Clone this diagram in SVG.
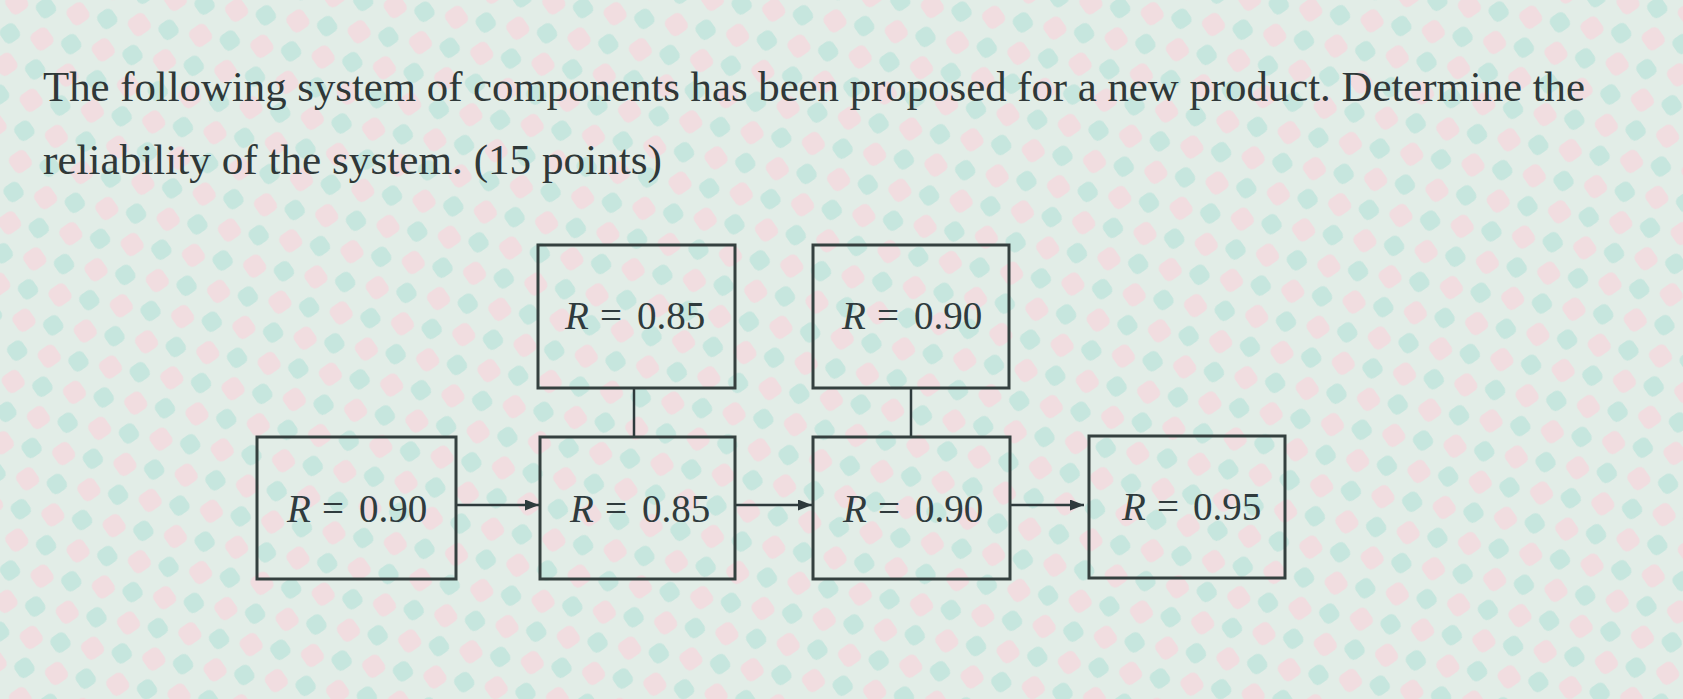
<svg xmlns="http://www.w3.org/2000/svg" width="1683" height="699" viewBox="0 0 1683 699">
  <defs>
    <pattern id="moire" width="44" height="44" patternUnits="userSpaceOnUse" patternTransform="rotate(-35)">
      <rect width="44" height="44" fill="#e2ede7"/>
      <rect x="2" y="2" width="20" height="20" rx="6" fill="#f1dde0"/>
      <rect x="24" y="24" width="18" height="18" rx="6" fill="#c6e6de"/>
    </pattern>
    <marker id="arrow" viewBox="0 0 14 11" refX="14" refY="5.5" markerWidth="14" markerHeight="11" markerUnits="userSpaceOnUse" orient="auto">
      <path d="M0,0 L14,5.5 L0,11 Z" fill="#2e3a3c"/>
    </marker>
    <style>
      .box { fill: none; stroke: #34403f; stroke-width: 3; }
      .lbl { font-family: "Liberation Serif", "Times New Roman", serif; font-size: 39px; fill: #2f3b3d; }
      .it { font-style: italic; }
      .title { font-family: "Liberation Serif", "Times New Roman", serif; font-size: 42px; fill: #2f3838; }
      .conn { stroke: #2e3a3c; stroke-width: 2.5; fill: none; }
    </style>
  </defs>
  <rect width="1683" height="699" fill="url(#moire)"/>

  <g id="question">
    <text class="title" x="43" y="101" textLength="1542" lengthAdjust="spacingAndGlyphs">The following system of components has been proposed for a new product. Determine the</text>
    <text class="title" x="43" y="174" textLength="619" lengthAdjust="spacingAndGlyphs">reliability of the system. (15 points)</text>
  </g>

  <g id="connectors">
    <line class="conn" x1="634" y1="388" x2="634" y2="437"/>
    <line class="conn" x1="911" y1="388" x2="911" y2="437"/>
    <line class="conn" x1="456" y1="505" x2="539" y2="505" marker-end="url(#arrow)"/>
    <line class="conn" x1="735" y1="505" x2="812" y2="505" marker-end="url(#arrow)"/>
    <line class="conn" x1="1010" y1="505" x2="1084" y2="505" marker-end="url(#arrow)"/>
  </g>

  <g id="node-a">
    <rect class="box" x="257" y="437" width="199" height="142"/>
    <text class="lbl" y="522"><tspan class="it" x="287">R</tspan><tspan x="322">=</tspan><tspan x="359">0.90</tspan></text>
  </g>
  <g id="node-b-top">
    <rect class="box" x="538" y="245" width="197" height="143"/>
    <text class="lbl" y="329"><tspan class="it" x="565">R</tspan><tspan x="600">=</tspan><tspan x="637">0.85</tspan></text>
  </g>
  <g id="node-b-bottom">
    <rect class="box" x="540" y="437" width="195" height="142"/>
    <text class="lbl" y="522"><tspan class="it" x="570">R</tspan><tspan x="605">=</tspan><tspan x="642">0.85</tspan></text>
  </g>
  <g id="node-c-top">
    <rect class="box" x="813" y="245" width="196" height="143"/>
    <text class="lbl" y="329"><tspan class="it" x="842">R</tspan><tspan x="877">=</tspan><tspan x="914">0.90</tspan></text>
  </g>
  <g id="node-c-bottom">
    <rect class="box" x="813" y="437" width="197" height="142"/>
    <text class="lbl" y="522"><tspan class="it" x="843">R</tspan><tspan x="878">=</tspan><tspan x="915">0.90</tspan></text>
  </g>
  <g id="node-d">
    <rect class="box" x="1089" y="436" width="196" height="142"/>
    <text class="lbl" y="520"><tspan class="it" x="1122">R</tspan><tspan x="1157">=</tspan><tspan x="1193">0.95</tspan></text>
  </g>
</svg>
